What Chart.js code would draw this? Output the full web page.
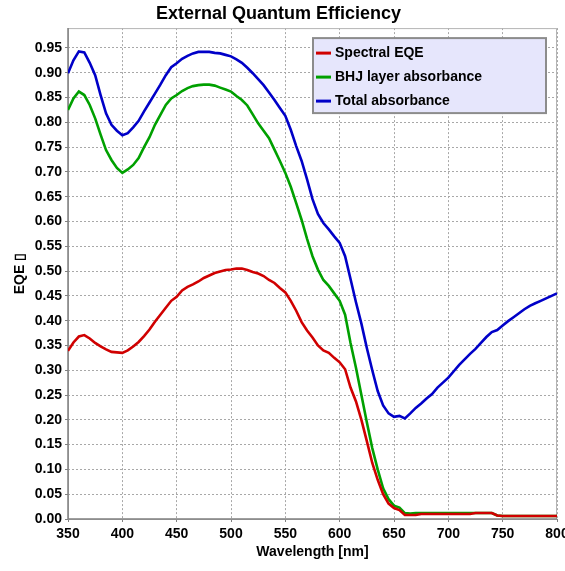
<!DOCTYPE html>
<html>
<head>
<meta charset="utf-8">
<script src="https://cdn.jsdelivr.net/npm/chart.js@4.4.1/dist/chart.umd.min.js"></script>
<style>
  html, body { margin: 0; padding: 0; background: #fff; }
  #wrap { width: 565px; height: 571px; }
</style>
</head>
<body>
<div id="wrap"><canvas id="eqeChart" width="565" height="571"></canvas></div>
<script>
// Wavelength grid (nm), one value every 5 nm
const wavelengths = [];
for (let w = 350; w <= 800; w += 5) wavelengths.push(w);

// Series
const spectralEQE = [
  0.339, 0.356, 0.368, 0.371, 0.364, 0.355, 0.348, 0.342, 0.337, 0.336,
  0.335, 0.340, 0.348, 0.357, 0.369, 0.382, 0.398, 0.412, 0.426, 0.440,
  0.448, 0.461, 0.468, 0.473, 0.479, 0.486, 0.491, 0.496, 0.499, 0.502,
  0.503, 0.505, 0.505, 0.502, 0.498, 0.495, 0.490, 0.482, 0.476, 0.466,
  0.457, 0.440, 0.420, 0.397, 0.380, 0.366, 0.350, 0.340, 0.335, 0.325,
  0.316, 0.302, 0.265, 0.237, 0.200, 0.157, 0.113, 0.079, 0.050, 0.031,
  0.022, 0.018, 0.008, 0.008, 0.008, 0.010, 0.010, 0.010, 0.010, 0.010,
  0.010, 0.010, 0.010, 0.010, 0.010, 0.012, 0.012, 0.012, 0.012, 0.007,
  0.006, 0.006, 0.006, 0.006, 0.006, 0.006, 0.006, 0.006, 0.006, 0.006,
  0.006
];
const bhjAbsorbance = [
  0.825, 0.848, 0.862, 0.855, 0.835, 0.808, 0.775, 0.744, 0.724, 0.708,
  0.698, 0.705, 0.714, 0.728, 0.750, 0.770, 0.795, 0.815, 0.835, 0.848,
  0.855, 0.863, 0.869, 0.873, 0.875, 0.876, 0.876, 0.874, 0.870, 0.866,
  0.862, 0.853, 0.845, 0.834, 0.816, 0.798, 0.783, 0.768, 0.745, 0.722,
  0.698, 0.670, 0.637, 0.603, 0.565, 0.530, 0.503, 0.482, 0.470, 0.455,
  0.440, 0.412, 0.355, 0.305, 0.250, 0.195, 0.143, 0.100, 0.062, 0.040,
  0.027, 0.023, 0.012, 0.011, 0.012, 0.012, 0.012, 0.012, 0.012, 0.012,
  0.012, 0.012, 0.012, 0.012, 0.012, 0.012, 0.012, 0.012, 0.012, 0.007,
  0.006, 0.006, 0.006, 0.006, 0.006, 0.006, 0.006, 0.006, 0.006, 0.006,
  0.006
];
const totalAbsorbance = [
  0.899, 0.925, 0.943, 0.941, 0.920, 0.895, 0.855, 0.818, 0.795, 0.783,
  0.774, 0.778, 0.790, 0.803, 0.822, 0.840, 0.858, 0.876, 0.895, 0.911,
  0.919, 0.928, 0.934, 0.939, 0.942, 0.942, 0.942, 0.940, 0.939, 0.936,
  0.933, 0.927, 0.920, 0.910, 0.899, 0.887, 0.875, 0.860, 0.845, 0.829,
  0.813, 0.785, 0.752, 0.722, 0.685, 0.645, 0.615, 0.597, 0.584, 0.570,
  0.557, 0.530, 0.484, 0.437, 0.394, 0.345, 0.300, 0.258, 0.229, 0.213,
  0.206, 0.208, 0.203, 0.213, 0.224, 0.233, 0.243, 0.252, 0.265, 0.275,
  0.285, 0.298, 0.311, 0.322, 0.333, 0.343, 0.355, 0.367, 0.377, 0.381,
  0.390, 0.399, 0.407, 0.415, 0.423, 0.430, 0.435, 0.440, 0.445, 0.450,
  0.455
];

const seriesNames = ['Spectral EQE', 'BHJ layer absorbance', 'Total absorbance'];
const seriesColors = ['#d00000', '#00a000', '#0000c8'];
const seriesValues = [spectralEQE, bhjAbsorbance, totalAbsorbance];

const FONT = 'Liberation Sans, Arial, Helvetica, sans-serif';

// Draw the legend box inside the plot, top right, like the original
const insideLegend = {
  id: 'insideLegend',
  afterDatasetsDraw(chart) {
    const ctx = chart.ctx;
    const area = chart.chartArea;
    const x = area.right - 244, y = area.top + 10, w = 233, h = 75;
    ctx.save();
    ctx.fillStyle = '#e6e6fc';
    ctx.fillRect(x, y, w, h);
    ctx.strokeStyle = '#8c8c8c';
    ctx.lineWidth = 2;
    ctx.strokeRect(x, y, w, h);
    ctx.font = 'bold 14px ' + FONT;
    ctx.textBaseline = 'middle';
    chart.data.datasets.forEach((ds, i) => {
      const cy = y + 15 + i * 24;
      ctx.strokeStyle = ds.borderColor;
      ctx.lineWidth = 3;
      ctx.beginPath();
      ctx.moveTo(x + 3, cy);
      ctx.lineTo(x + 18, cy);
      ctx.stroke();
      ctx.fillStyle = '#000';
      ctx.fillText(ds.label, x + 22, cy);
    });
    ctx.restore();
  }
};

// Light border round the plot area, darker left/bottom axes
const plotFrame = {
  id: 'plotFrame',
  beforeDatasetsDraw(chart) {
    const { ctx, chartArea: a } = chart;
    ctx.save();
    ctx.strokeStyle = '#b4b4b4';
    ctx.lineWidth = 1;
    ctx.strokeRect(a.left + 0.5, a.top + 0.5, a.right - a.left - 1, a.bottom - a.top);
    ctx.strokeStyle = '#808080';
    ctx.lineWidth = 1.5;
    ctx.beginPath();
    ctx.moveTo(a.left, a.top);
    ctx.lineTo(a.left, a.bottom);
    ctx.lineTo(a.right, a.bottom);
    ctx.stroke();
    ctx.restore();
  }
};

const ctx = document.getElementById('eqeChart').getContext('2d');
new Chart(ctx, {
  type: 'line',
  data: {
    labels: wavelengths,
    datasets: seriesNames.map((name, i) => ({
      label: name,
      data: wavelengths.map((w, j) => ({ x: w, y: seriesValues[i][j] })),
      borderColor: seriesColors[i],
      backgroundColor: seriesColors[i],
      borderWidth: 2.6,
      pointRadius: 0,
      tension: 0,
      fill: false
    }))
  },
  options: {
    responsive: false,
    animation: false,
    layout: { padding: { right: 8 } },
    plugins: {
      legend: { display: false },
      tooltip: { enabled: false },
      title: {
        display: true,
        text: 'External Quantum Efficiency',
        color: '#000',
        font: { family: FONT, size: 18, weight: 'bold' },
        padding: { top: 3, bottom: 3.5 }
      }
    },
    scales: {
      x: {
        type: 'linear',
        min: 350,
        max: 800,
        ticks: {
          stepSize: 50,
          color: '#000',
          padding: 4,
          maxRotation: 0,
          font: { family: FONT, size: 14, weight: 'bold' }
        },
        grid: {
          color: '#a8a8a8',
          tickColor: '#808080',
          tickLength: 3,
          drawOnChartArea: true
        },
        border: { display: false, dash: [2, 2] },
        title: {
          display: true,
          text: 'Wavelength [nm]',
          color: '#000',
          font: { family: FONT, size: 14, weight: 'bold' },
          padding: { top: 0, bottom: 10 }
        },
        afterFit(scale) {
          scale.height = 52;
          scale.paddingLeft = 0;
          scale.paddingRight = 0;
        }
      },
      y: {
        min: 0,
        max: 0.99,
        ticks: {
          stepSize: 0.05,
          color: '#000',
          padding: 3,
          font: { family: FONT, size: 14, weight: 'bold' },
          callback(v) {
            const k = Math.round(v / 0.05);
            return Math.abs(k * 0.05 - v) < 1e-6 ? v.toFixed(2) : null;
          }
        },
        grid: {
          color: '#a8a8a8',
          tickColor: '#808080',
          tickLength: 3
        },
        border: { display: false, dash: [2, 2] },
        title: {
          display: true,
          text: 'EQE \u25AF',
          color: '#000',
          font: { family: FONT, size: 14, weight: 'bold' },
          padding: { top: 12, bottom: 0 }
        },
        afterFit(scale) {
          scale.width = 68;
          scale.paddingTop = 0;
          scale.paddingBottom = 0;
        }
      }
    }
  },
  plugins: [plotFrame, insideLegend]
});
</script>
</body>
</html>
